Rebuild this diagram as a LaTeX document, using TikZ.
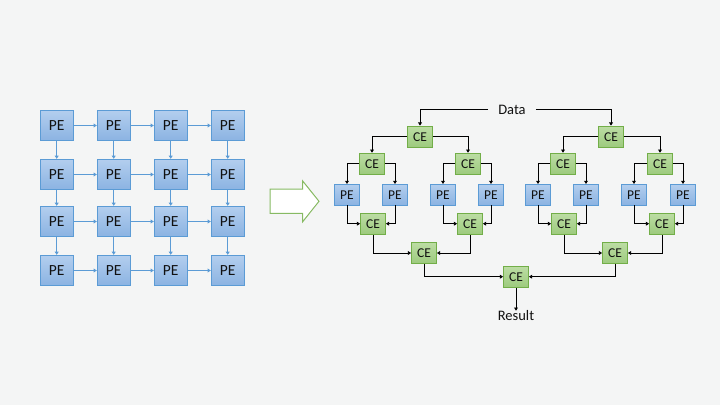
\documentclass[tikz,border=0pt]{standalone}
\usepackage{fontspec}
\setmainfont{Carlito}
\usetikzlibrary{arrows.meta}
\definecolor{bg}{HTML}{F4F5F5}
\definecolor{petop}{HTML}{B3CEEE}
\definecolor{pebot}{HTML}{8BB3E2}
\definecolor{peline}{HTML}{5B9BD5}
\definecolor{cetop}{HTML}{BCDDA4}
\definecolor{cebot}{HTML}{9CCA7D}
\definecolor{celine}{HTML}{72AE48}
\definecolor{txt}{HTML}{111111}
\tikzset{
  pebox/.style={draw=peline, line width=0.8pt, top color=petop, bottom color=pebot,
    minimum width=33pt, minimum height=30.5pt, inner sep=0pt, text=txt, font=\fontsize{15.5}{15.5}\selectfont},
  pesm/.style={draw=peline, line width=0.8pt, top color=petop, bottom color=pebot,
    minimum width=25pt, minimum height=20.7pt, inner sep=0pt, text=txt, font=\fontsize{13.5}{13.5}\selectfont},
  cebox/.style={draw=celine, line width=0.8pt, top color=cetop, bottom color=cebot,
    minimum width=25pt, minimum height=21.3pt, inner sep=0pt, text=txt, font=\fontsize{13.5}{13.5}\selectfont},
  gridarr/.style={draw=peline, line width=0.8pt, -{Triangle[width=3.8pt,length=3.2pt]}},
  conn/.style={draw=black, line width=0.75pt, -{Triangle[width=3.8pt,length=3.2pt]}},
  lbl/.style={text=txt, font=\fontsize{14.5}{14.5}\selectfont, inner ysep=0pt}
}
\begin{document}
\begin{tikzpicture}[x=1pt, y=-1pt]
\fill[bg] (0,0) rectangle (720,405);
\useasboundingbox (0,0) rectangle (720,405);
% left grid
\foreach \r/\yy in {1/125.5,2/174.5,3/221.5,4/270.5}{
  \foreach \c/\xx in {1/56.7,2/113.7,3/170.7,4/227.7}{
    \node[pebox] (g\r\c) at (\xx,\yy) {PE};
  }
}
\foreach \r in {1,2,3,4}{
  \draw[gridarr] (g\r1.east) -- (g\r2.west);
  \draw[gridarr] (g\r2.east) -- (g\r3.west);
  \draw[gridarr] (g\r3.east) -- (g\r4.west);
}
\foreach \c in {1,2,3,4}{
  \draw[gridarr] (g1\c.south) -- (g2\c.north);
  \draw[gridarr] (g2\c.south) -- (g3\c.north);
  \draw[gridarr] (g3\c.south) -- (g4\c.north);
}
% big arrow
\draw[draw=celine!85!white, line width=1pt, fill=white]
  (270,189) -- (302.7,189) -- (302.7,181) -- (319,201.3) -- (302.7,221.7) -- (302.7,213.3) -- (270,213.3) -- cycle;
% right tree
\node[lbl, inner xsep=10pt] (data) at (512,109.5) {Data};
\node[cebox] (t1) at (420,136.7) {CE};
\node[cebox] (t2) at (611,136.7) {CE};
\node[cebox] (ca) at (372,163.8) {CE};
\node[cebox] (cb) at (468,163.8) {CE};
\node[cebox] (cc) at (563,163.8) {CE};
\node[cebox] (cd) at (660,163.8) {CE};
\foreach \i/\xx in {1/347,2/395,3/443,4/491,5/538,6/586,7/634,8/683}{
  \node[pesm] (p\i) at (\xx,194.7) {PE};
}
\node[cebox] (da) at (373,223.7) {CE};
\node[cebox] (db) at (470,223.7) {CE};
\node[cebox] (dc) at (564,223.7) {CE};
\node[cebox] (dd) at (662,223.7) {CE};
\node[cebox] (ea) at (424,253) {CE};
\node[cebox] (eb) at (615,253) {CE};
\node[cebox] (fb) at (516,276.7) {CE};
\node[lbl] (res) at (516,316) {Result};
% connectors
\draw[conn] (data.west) -| (t1.north);
\draw[conn] (data.east) -| (t2.north);
\draw[conn] (t1.west) -| (ca.north);
\draw[conn] (t1.east) -| (cb.north);
\draw[conn] (t2.west) -| (cc.north);
\draw[conn] (t2.east) -| (cd.north);
\draw[conn] (ca.west) -| (p1.north);
\draw[conn] (ca.east) -| (p2.north);
\draw[conn] (cb.west) -| (p3.north);
\draw[conn] (cb.east) -| (p4.north);
\draw[conn] (cc.west) -| (p5.north);
\draw[conn] (cc.east) -| (p6.north);
\draw[conn] (cd.west) -| (p7.north);
\draw[conn] (cd.east) -| (p8.north);
\draw[conn] (p1.south) |- (da.west);
\draw[conn] (p2.south) |- (da.east);
\draw[conn] (p3.south) |- (db.west);
\draw[conn] (p4.south) |- (db.east);
\draw[conn] (p5.south) |- (dc.west);
\draw[conn] (p6.south) |- (dc.east);
\draw[conn] (p7.south) |- (dd.west);
\draw[conn] (p8.south) |- (dd.east);
\draw[conn] (da.south) |- (ea.west);
\draw[conn] (db.south) |- (ea.east);
\draw[conn] (dc.south) |- (eb.west);
\draw[conn] (dd.south) |- (eb.east);
\draw[conn] (ea.south) |- (fb.west);
\draw[conn] (eb.south) |- (fb.east);
\draw[conn] (fb.south) -- (res.north);
\end{tikzpicture}
\end{document}
